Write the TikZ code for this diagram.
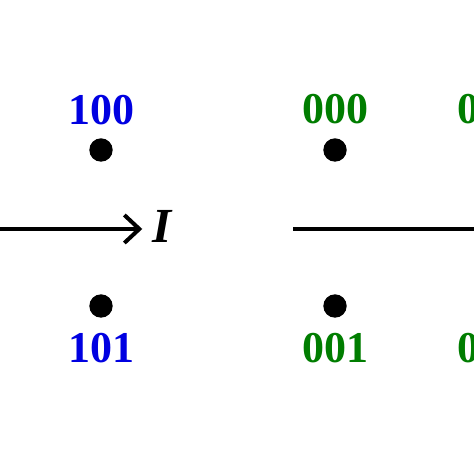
\documentclass[tikz,border=0pt]{standalone}
\usepackage{fontspec}
\setmainfont{Liberation Serif}
\usepackage{xcolor}
\usepackage{tikz}
\usetikzlibrary{arrows.meta}
\definecolor{labelblue}{RGB}{0,0,225}
\definecolor{labelgreen}{RGB}{0,125,0}
\tikzstyle{state} = [circle,fill=black,inner sep=0pt,minimum size=23.4pt]
\tikzstyle{code} = [inner sep=0pt,font=\fontsize{44}{44}\selectfont\bfseries]
\tikzstyle{line} = [line width=4pt]

\begin{document}
\begin{tikzpicture}[x=1pt,y=1pt]
	% Frame:
	% The picture is a cut-out, so everything outside is clipped away
	\useasboundingbox (0,0) rectangle (474,474);
	\clip (0,0) rectangle (474,474);

	% States:
	% Dots with their codes above and below
	\node [state] (s100) at (101,324) {};
	\node [state] (s101) at (101,168) {};
	\node [state] (s000) at (335,324) {};
	\node [state] (s001) at (335,168) {};
	\node [code,labelblue]  (l100) at (101,364) {100};
	\node [code,labelblue]  (l101) at (101,126) {101};
	\node [code,labelgreen] (l000) at (335,365) {000};
	\node [code,labelgreen] (l001) at (335,126) {001};
	% Only the first digit of the next column is inside the frame
	\node [code,labelgreen,anchor=west] (l010) at (457,365) {0};
	\node [code,labelgreen,anchor=west] (l011) at (457,126) {0};

	% Axis:
	% Arrow coming in from the left, labelled with `I'
	\node [inner sep=0pt,font=\fontsize{49}{49}\selectfont\bfseries\itshape] (I) at (162,247.5) {I};
	\coordinate (in) at (-10,245);
	\draw [line,-{Straight Barb[length=15pt,width=28pt]},shorten >=10pt] (in) -- (in -| I.west);
	% and the line going on to the right
	\coordinate (out0) at (293,245);
	\coordinate (out1) at (490,245);
	\draw [line] (out0) -- (out1);
\end{tikzpicture}
\end{document}
